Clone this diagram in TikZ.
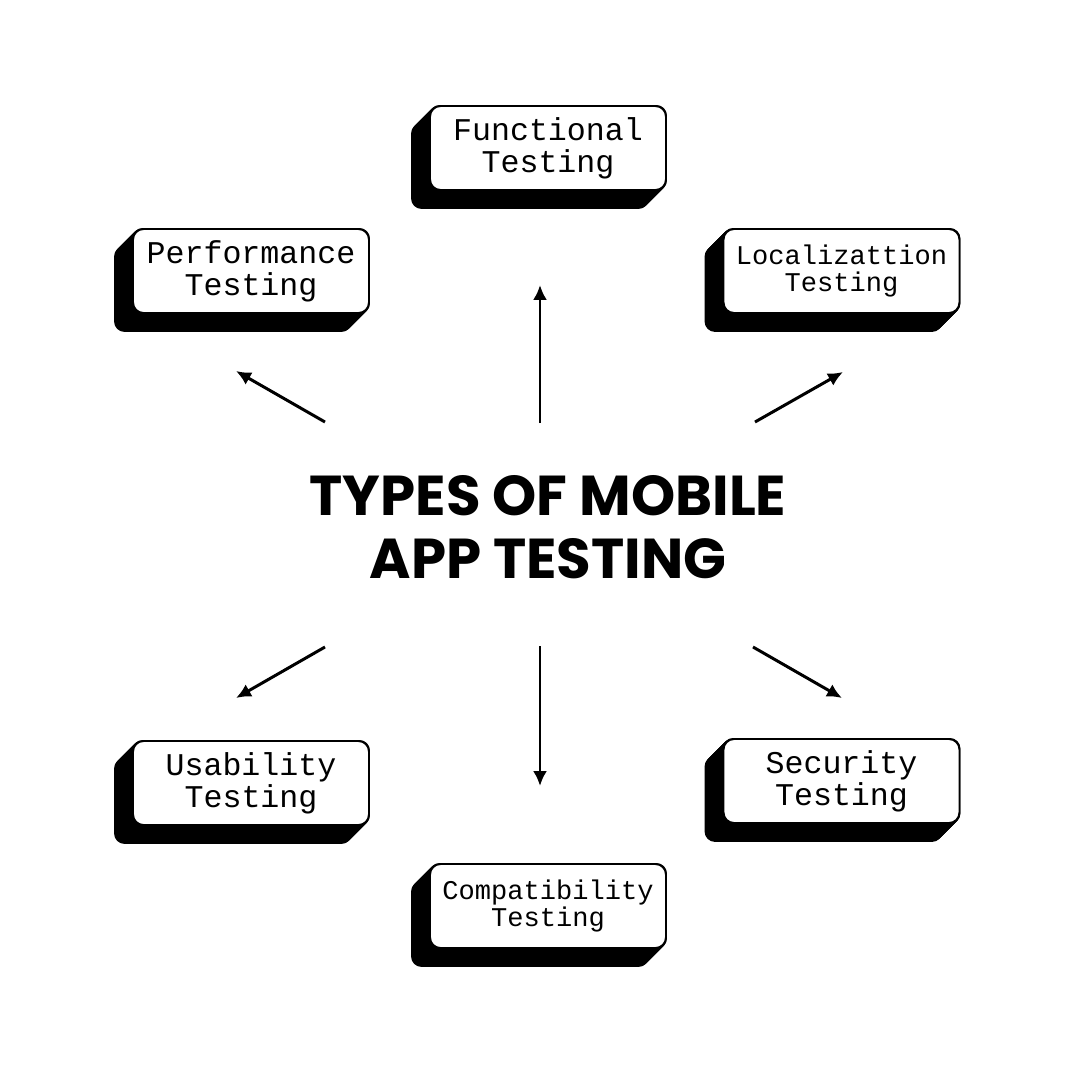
\documentclass[tikz,border=0pt]{standalone}
\usepackage{fontspec}
\setmonofont{Liberation Mono}
\newfontfamily\titlefont{Poppins}
\usetikzlibrary{arrows.meta,backgrounds}

\tikzset{
  testbox/.style={draw=black, line width=1.1pt, fill=white, rounded corners=6pt,
    minimum width=4.72cm, minimum height=1.68cm, align=center, inner sep=0pt,
    font=\ttfamily\fontsize{18}{18.2}\selectfont},
  smalltext/.style={font=\ttfamily\fontsize{15.4}{15.4}\selectfont},
  titletext/.style={align=center, font=\titlefont\bfseries\fontsize{32}{35.5}\selectfont},
  testarrow/.style={line width=1.7pt, -{Latex[length=8.5pt,width=8pt]}}
}

\begin{document}
\begin{tikzpicture}[x=0.02cm, y=-0.02cm]
  \useasboundingbox (0,0) rectangle (1080,1080);

  % the six boxes
  \node[testbox] (func) at (548,148) {Functional\\Testing};
  \node[testbox] (perf) at (251,271) {Performance\\Testing};
  \node[testbox, smalltext] (local) at (841.5,271) {Localizattion\\Testing};
  \node[testbox] (usab) at (251,783) {Usability\\Testing};
  \node[testbox] (secu) at (841.5,781) {Security\\Testing};
  \node[testbox, smalltext] (compat) at (548,906) {Compatibility\\Testing};

  % white page and black extruded shadow behind each box
  \begin{pgfonlayer}{background}
    \fill[white] (0,0) rectangle (1080,1080);
    \foreach \b in {func,perf,local,usab,secu,compat} {
      \foreach \k in {0,1,...,18} {
        \fill[black, rounded corners=6pt] ([shift={(-\k,\k)}]\b.north west)
          rectangle ([shift={(-\k,\k)}]\b.south east);
      }
    }
  \end{pgfonlayer}

  \node[titletext] (title) at (548,527) {TYPES OF MOBILE\\APP TESTING};

  % arrows out of the title
  \coordinate (n-s) at (540,423);  \coordinate (n-e) at (540,285);
  \coordinate (s-s) at (540,646);  \coordinate (s-e) at (540,786);
  \coordinate (nw-s) at (325,422); \coordinate (nw-e) at (236,371);
  \coordinate (ne-s) at (755,422); \coordinate (ne-e) at (843,372);
  \coordinate (sw-s) at (325,647); \coordinate (sw-e) at (236,698);
  \coordinate (se-s) at (753,647); \coordinate (se-e) at (842,698);
  \foreach \d in {n,s,nw,ne,sw,se} {
    \draw[testarrow] (\d-s) -- (\d-e);
  }
\end{tikzpicture}
\end{document}
